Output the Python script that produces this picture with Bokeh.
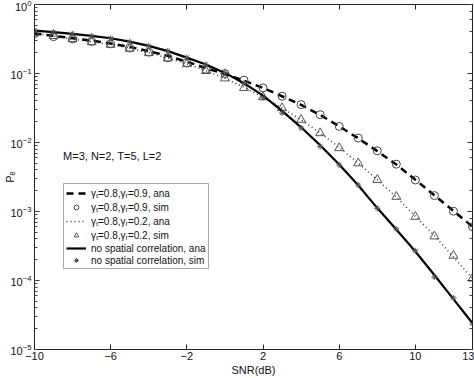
from bokeh.plotting import figure
from bokeh.models import (Range1d, FixedTicker, LinearAxis, LogAxis, Legend, LegendItem,
                          Label, CustomJSTickFormatter, LogTicker)
from bokeh.embed import file_html
from bokeh.resources import INLINE

snr = list(range(-10, 14))
x_ticks = [-10, -6, -2, 2, 6, 10, 13]

corr09_ana = [0.380, 0.351, 0.324, 0.299, 0.272, 0.243, 0.211, 0.180, 0.148, 0.120, 0.0977, 0.0785,
              0.0617, 0.0468, 0.0351, 0.0251, 0.0172, 0.0115, 0.00750, 0.00479, 0.00288, 0.00172,
              0.00102, 6.03e-4]
corr09_sim = [0.378, 0.342, 0.316, 0.292, 0.269, 0.234, 0.204, 0.169, 0.143, 0.115, 0.100, 0.0802,
              0.0619, 0.0469, 0.0354, 0.0253, 0.0171, 0.0116, 0.00757, 0.00485, 0.00286, 0.00170,
              0.00101, 6.0e-4]
corr02_ana = [0.380, 0.347, 0.316, 0.288, 0.263, 0.232, 0.200, 0.168, 0.138, 0.110, 0.0851, 0.0631,
              0.0452, 0.0316, 0.0214, 0.0138, 0.00851, 0.00501, 0.00288, 0.00162, 8.5e-4, 4.47e-4,
              2.19e-4, 1.07e-4]
corr02_sim = [0.385, 0.350, 0.318, 0.285, 0.262, 0.230, 0.198, 0.166, 0.137, 0.109, 0.0851, 0.0619,
              0.0455, 0.0316, 0.0214, 0.0137, 0.00832, 0.00501, 0.00288, 0.00164, 8.4e-4, 4.37e-4,
              2.29e-4, 1.07e-4]
nocorr_ana = [0.419, 0.398, 0.376, 0.351, 0.324, 0.289, 0.251, 0.211, 0.170, 0.135, 0.102, 0.0724,
              0.0479, 0.0288, 0.0166, 0.00912, 0.00479, 0.00240, 0.00112, 5.5e-4, 2.63e-4, 1.20e-4,
              5.37e-5, 2.40e-5]
nocorr_sim = [0.420, 0.400, 0.376, 0.350, 0.324, 0.289, 0.252, 0.212, 0.170, 0.135, 0.103, 0.0724,
              0.0443, 0.0268, 0.0162, 0.00877, 0.00473, 0.00242, 0.00111, 5.55e-4, 2.69e-4, 1.12e-4,
              5.56e-5, 2.34e-5]

labels = ["γₜ=0.8,γᵣ=0.9, ana", "γₜ=0.8,γᵣ=0.9, sim",
          "γₜ=0.8,γᵣ=0.2, ana", "γₜ=0.8,γᵣ=0.2, sim",
          "no spatial correlation, ana", "no spatial correlation, sim"]
annotation = "M=3, N=2, T=5, L=2"
y_label = "Pₑ"

FONT = "Liberation Sans"

p = figure(width=474, height=378, y_axis_type="log",
           x_range=Range1d(-10, 13), y_range=Range1d(1e-5, 1),
           output_backend="svg", toolbar_location=None,
           min_border_left=34, min_border_top=4, min_border_right=2, min_border_bottom=28)
p.grid.visible = False
p.outline_line_color = "#222222"
p.outline_line_width = 1

def style_axis(ax):
    ax.major_tick_in = 5
    ax.major_tick_out = 0
    ax.minor_tick_in = 3
    ax.minor_tick_out = 0
    ax.axis_line_color = "#222222"
    ax.major_tick_line_color = "#222222"
    ax.minor_tick_line_color = "#444444"
    ax.major_label_text_font = FONT
    ax.major_label_text_font_size = "11px"
    ax.major_label_text_color = "#111111"
    ax.axis_label_text_font = FONT
    ax.axis_label_text_font_size = "11px"
    ax.axis_label_text_font_style = "normal"
    ax.axis_label_text_color = "#111111"
    ax.major_label_standoff = 2
    ax.axis_label_standoff = 1

p.xaxis.ticker = FixedTicker(ticks=x_ticks)
p.xaxis.axis_label = "SNR(dB)"
p.yaxis.axis_label = y_label
style_axis(p.xaxis[0])
style_axis(p.yaxis[0])
p.xaxis.minor_tick_in = 0
p.yaxis.major_label_standoff = 3
p.yaxis.axis_label_standoff = -9

blank = CustomJSTickFormatter(code="return ''")
top = LinearAxis(ticker=FixedTicker(ticks=x_ticks), formatter=blank)
style_axis(top)
top.minor_tick_in = 0
top.major_label_text_font_size = "0px"
top.major_label_standoff = 0
right = LogAxis(ticker=LogTicker(), formatter=blank)
style_axis(right)
right.major_label_text_font_size = "0px"
right.major_label_standoff = 0
p.add_layout(top, "above")
p.add_layout(right, "right")

r1 = p.line(snr, corr09_ana, line_color="black", line_width=2.5, line_dash="7 5")
r2 = p.scatter(snr, corr09_sim, marker="circle", size=8, fill_color=None,
               line_color="#444444", line_width=1)
r3 = p.line(snr, corr02_ana, line_color="#333333", line_width=1.5, line_dash="1 3")
r4 = p.scatter(snr, corr02_sim, marker="triangle", size=9, fill_color=None,
               line_color="#555555", line_width=1)
r5 = p.line(snr, nocorr_ana, line_color="black", line_width=2.2)
r6 = p.scatter(snr, nocorr_sim, marker="asterisk", size=6, line_color="#555555", line_width=1)

legend = Legend(items=[LegendItem(label=l, renderers=[r]) for l, r in
                       zip(labels, [r1, r2, r3, r4, r5, r6])],
                location=(29, 80))
legend.label_text_font = FONT
legend.label_text_font_size = "10px"
legend.label_text_color = "#111111"
legend.glyph_width = 20
legend.glyph_height = 12
legend.label_height = 12
legend.spacing = -1
legend.padding = 2
legend.margin = 0
legend.label_standoff = 5
legend.border_line_color = "#555555"
legend.border_line_width = 1
legend.background_fill_alpha = 1
p.add_layout(legend)

p.add_layout(Label(x=-8.5, y=0.0064, text=annotation, text_font=FONT,
                   text_font_size="11px", text_baseline="middle", text_color="#111111"))

open("out.html", "w").write(file_html(p, INLINE))
